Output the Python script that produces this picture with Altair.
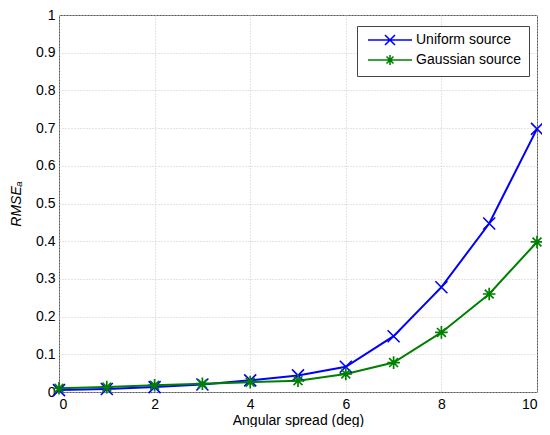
import altair as alt
import pandas as pd

# angular spread (deg)
spread = [0, 1, 2, 3, 4, 5, 6, 7, 8, 9, 10]
uniform = [0.005, 0.008, 0.013, 0.02, 0.031, 0.044, 0.067, 0.148, 0.278, 0.447, 0.698]
gaussian = [0.01, 0.013, 0.018, 0.022, 0.026, 0.03, 0.048, 0.078, 0.158, 0.26, 0.398]
series = ["Uniform source", "Gaussian source"]
colors = ["#0000ff", "#008000"]

x_path = "M-1,-1L1,1M-1,1L1,-1"
star_path = "M-1,0L1,0M0,-1L0,1M-0.7,-0.7L0.7,0.7M-0.7,0.7L0.7,-0.7"
# legend symbols carry a line segment through the marker
legend_paths = ["M-4.4,0L4.4,0" + x_path, "M-4.4,0L4.4,0" + star_path]

df = pd.concat([
    pd.DataFrame({"spread": spread, "rmse": uniform, "series": series[0]}),
    pd.DataFrame({"spread": spread, "rmse": gaussian, "series": series[1]}),
])

xs = alt.X("spread:Q", scale=alt.Scale(domain=[0, 10], nice=False),
           axis=alt.Axis(title="Angular spread (deg)", values=[0, 2, 4, 6, 8, 10],
                         labelPadding=5, titlePadding=2))
ys = alt.Y("rmse:Q", scale=alt.Scale(domain=[0, 1], nice=False),
           axis=alt.Axis(title="RMSEₐ", values=[i / 10 for i in range(11)], format="~g",
                         titleFontStyle="italic", titlePadding=12, labelPadding=4))
stroke = alt.Stroke("series:N", scale=alt.Scale(domain=series, range=colors), legend=None)

base = alt.Chart(df)

lines = base.mark_line(strokeWidth=2).encode(x=xs, y=ys, stroke=stroke)

pts_u = base.transform_filter(alt.datum.series == series[0]).mark_point(
    shape=x_path, filled=False, strokeWidth=1.6, size=144, opacity=1
).encode(x=xs, y=ys, stroke=stroke)

pts_g = base.transform_filter(alt.datum.series == series[1]).mark_point(
    shape=star_path, filled=False, strokeWidth=1.7, size=160, opacity=1
).encode(x=xs, y=ys, stroke=stroke)

leg = alt.Legend(title=None, orient="none", legendX=298, legendY=11,
                 symbolSize=100, symbolStrokeWidth=1.6, symbolOffset=19, labelOffset=19,
                 labelFontSize=14, labelColor="black", rowPadding=2, padding=7,
                 strokeColor="#444", fillColor="white")

# layer that only supplies the legend (its points have zero size)
legend_layer = base.mark_point(filled=False, opacity=1, size=0).encode(
    x=xs, y=ys,
    color=alt.Color("series:N", scale=alt.Scale(domain=series, range=colors), legend=leg),
    shape=alt.Shape("series:N", scale=alt.Scale(domain=series, range=legend_paths), legend=leg),
)

chart = (legend_layer + lines + pts_u + pts_g).properties(
    width=478, height=377,
    autosize=alt.AutoSizeParams(type="none"),
    padding={"left": 51, "top": 7, "right": 5, "bottom": 35},
).configure(font="Liberation Sans").configure_view(
    stroke="#555", strokeWidth=1
).configure_axis(
    grid=True, gridColor="#c8c8c8", gridDash=[1, 2], gridWidth=1,
    domain=False, ticks=False,
    labelFontSize=14, titleFontSize=14, labelColor="black", titleColor="black",
    titleFontWeight="normal", labelFont="Liberation Sans", titleFont="Liberation Sans",
)

chart.save("out.html", embed_options={"renderer": "svg", "actions": False})
